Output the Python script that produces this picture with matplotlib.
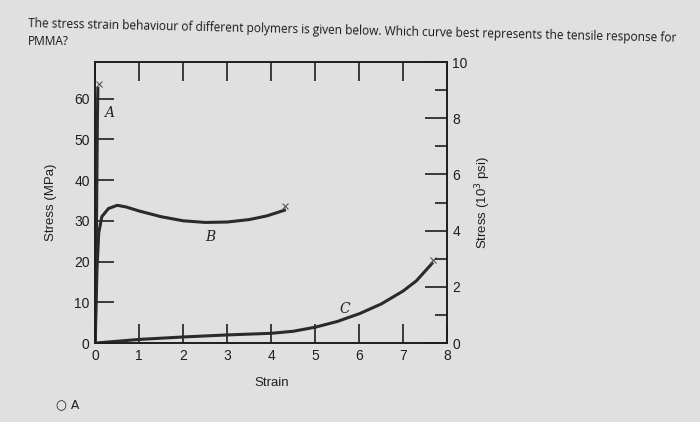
import numpy as np
import matplotlib.pyplot as plt
from matplotlib.ticker import MultipleLocator

plt.rcParams['font.family'] = ['Liberation Sans', 'DejaVu Sans']

# datos
strain_a = [0.0, 0.03, 0.05, 0.06]
stress_a = [0.0, 30.0, 55.0, 62.5]

strain_b = [0.0, 0.04, 0.08, 0.15, 0.3, 0.5, 0.7, 1.0, 1.5, 2.0, 2.5, 3.0, 3.5, 3.9, 4.3]
stress_b = [0.0, 18.0, 27.0, 31.0, 33.0, 33.8, 33.4, 32.4, 31.0, 30.0, 29.6, 29.7, 30.3, 31.2, 32.6]

strain_c = [0.0, 1.0, 2.0, 3.0, 4.0, 4.5, 5.0, 5.5, 6.0, 6.5, 7.0, 7.3, 7.65]
stress_c = [0.0, 0.9, 1.5, 2.0, 2.4, 2.9, 3.9, 5.3, 7.2, 9.6, 12.8, 15.3, 19.5]

psi_ticks = [0, 2, 4, 6, 8, 10]
mpa_ticks = [0, 10, 20, 30, 40, 50, 60]
mpa_per_ksi = 6.895

bg = '#e0e0e0'
ink = '#1e1e1e'
fig = plt.figure(figsize=(7, 4.22), dpi=100, facecolor=bg)
ax = fig.add_axes([0.136, 0.187, 0.503, 0.666])
ax.set_facecolor(bg)

lw = 2.2
ax.plot(strain_a, stress_a, color='#2a2a2a', lw=lw)
ax.plot(strain_b, stress_b, color='#2a2a2a', lw=lw)
ax.plot(strain_c, stress_c, color='#2a2a2a', lw=lw)
for sx, sy in [(strain_a, stress_a), (strain_b, stress_b), (strain_c, stress_c)]:
    ax.plot(sx[-1] + 0.02, sy[-1] + 1.0, marker='x', color='#555555', ms=4, mew=0.8)

serif = dict(family='DejaVu Serif', style='italic', fontsize=10, color='#222222')
ax.text(0.2, 55.5, 'A', **serif)
ax.text(2.5, 25, 'B', **serif)
ax.text(5.55, 7.5, 'C', **serif)

ax.set_xlim(0, 8)
ax.set_ylim(0, 10 * mpa_per_ksi)
ax.set_xticks(range(9))
ax.set_yticks(mpa_ticks)
ax.tick_params(direction='in', length=14, width=1.2, colors=ink,
               labelsize=10, top=True, labeltop=False, left=True, pad=4)
for s in ax.spines.values():
    s.set_linewidth(1.4)
    s.set_color(ink)
ax.set_xlabel('Strain', fontsize=9.5, labelpad=10, color=ink)
ax.set_ylabel('Stress (MPa)', fontsize=9.5, labelpad=12, color=ink)

ax2 = ax.twinx()
ax2.set_ylim(0, 10)
ax2.set_yticks(psi_ticks)
ax2.yaxis.set_minor_locator(MultipleLocator(1))
ax2.tick_params(which='major', direction='in', length=16, width=1.2, labelsize=10, colors=ink)
ax2.tick_params(which='minor', direction='in', length=9, width=1.2, colors=ink)
ax.tick_params(axis='y', right=False)
ax2.set_ylabel('Stress (10$^3$ psi)', fontsize=9.5, labelpad=4, color=ink)
for s in ax2.spines.values():
    s.set_visible(False)

fig.text(0.04, 0.936, 'The stress strain behaviour of different polymers is given below. '
         'Which curve best represents the tensile response for',
         fontsize=8.6, family='Open Sans', color='#1a1a1a', rotation=-1.3,
         rotation_mode='anchor')
fig.text(0.04, 0.893, 'PMMA?', fontsize=8.6, family='Open Sans', color='#1a1a1a')
fig.text(0.08, 0.033, '\u25cb A', fontsize=9, family='DejaVu Sans', color='#222222')

fig.savefig('out.png', dpi=100, facecolor=bg)
